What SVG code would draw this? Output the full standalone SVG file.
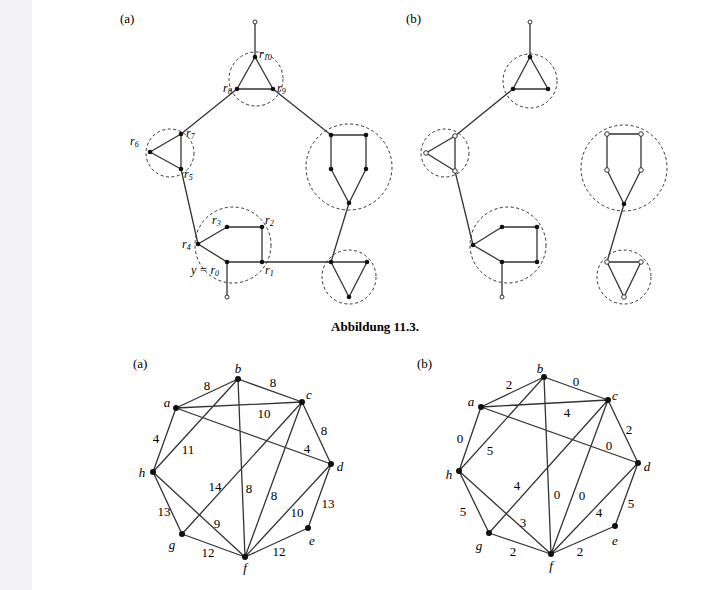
<svg xmlns="http://www.w3.org/2000/svg" width="720" height="590" viewBox="0 0 720 590">
<style>
text{font-family:"Liberation Serif","Times New Roman",serif;fill:#000}
.e{stroke:#333;stroke-width:1.3;fill:none;stroke-linejoin:round}
.c{stroke:#333;stroke-width:1;stroke-dasharray:3,2.5;fill:none}
.f{fill:#111}
.o{fill:#fff;stroke:#333;stroke-width:1}
.w{font-size:13px;text-anchor:middle}
.n{font-size:13px;font-style:italic;text-anchor:middle}
.r{font-size:12px;font-style:italic}
.s{font-size:8px}
</style>
<rect width="720" height="590" fill="#fff"/>
<rect width="32" height="590" fill="#f4f4f6"/>
<text x="120" y="23" font-size="13">(a)</text>
<text x="406" y="23" font-size="13">(b)</text>
<text x="375" y="331" font-size="13" font-weight="bold" text-anchor="middle">Abbildung 11.3.</text>
<text x="133" y="368" font-size="13">(a)</text>
<text x="417" y="368" font-size="13">(b)</text>

<g id="connectors">
<path class="e" d="M255,22V57L237,89H273L255,57M273,89L331,135M237,89L181,134M181,134L150,152L181,169ZM181,169L198,244L227,227H262V262H227L198,244M227,262V297M262,262H331M331,135H366V169L349,203L331,169ZM349,203L331,262H367L349,297L331,262"/>
<path class="e" d="M530,22V57L513,89H548L530,57M513,89L455,136M455,136L426,153L455,171ZM455,171L473,245L502,227H537V262H502L473,245M502,262V297M607,134H641V170L624,204L607,170ZM624,204L607,262H641L624,297L607,262"/>
<path class="e" d="M176,408L238,379L302,402L176,408L153,472L238,379L245,557L302,402L331,464L176,408M302,402L182,534L153,472L245,557L182,534M245,557L331,464L308,528L245,557"/>
<path class="e" d="M481,407L544,377L608,400L481,407L459,471L544,377L551,554L608,400L638,463L481,407M608,400L489,533L459,471L551,554L489,533M551,554L638,463L615,526L551,554"/>
</g>

<g id="circles">
<circle class="c" cx="256" cy="79" r="27"/><circle class="c" cx="170" cy="153" r="24"/><circle class="c" cx="233" cy="245" r="38"/><circle class="c" cx="349" cy="167" r="43"/><circle class="c" cx="349" cy="277" r="27"/>
<circle class="c" cx="530" cy="81" r="27"/><circle class="c" cx="445" cy="153" r="24"/><circle class="c" cx="508" cy="245" r="38"/><circle class="c" cx="624" cy="168" r="43"/><circle class="c" cx="624" cy="277" r="27"/>
</g>

<g id="nodes-top-a">
<circle class="o" cx="255" cy="22" r="2"/><circle class="o" cx="227" cy="297" r="2"/>
<g class="f"><circle cx="255" cy="57" r="2.3"/><circle cx="237" cy="89" r="2.3"/><circle cx="273" cy="89" r="2.3"/><circle cx="181" cy="134" r="2.3"/><circle cx="150" cy="152" r="2.3"/><circle cx="181" cy="169" r="2.3"/><circle cx="198" cy="244" r="2.3"/><circle cx="227" cy="227" r="2.3"/><circle cx="262" cy="227" r="2.3"/><circle cx="227" cy="262" r="2.3"/><circle cx="262" cy="262" r="2.3"/><circle cx="331" cy="135" r="2.3"/><circle cx="366" cy="135" r="2.3"/><circle cx="331" cy="169" r="2.3"/><circle cx="366" cy="169" r="2.3"/><circle cx="349" cy="203" r="2.3"/><circle cx="331" cy="262" r="2.3"/><circle cx="367" cy="262" r="2.3"/><circle cx="349" cy="297" r="2.3"/></g>
<text class="r" x="259" y="58">r<tspan class="s" dy="2">10</tspan></text>
<text class="r" x="223" y="92">r<tspan class="s" dy="2">8</tspan></text>
<text class="r" x="277" y="92">r<tspan class="s" dy="2">9</tspan></text>
<text class="r" x="186" y="137">r<tspan class="s" dy="2">7</tspan></text>
<text class="r" x="130" y="145">r<tspan class="s" dy="2">6</tspan></text>
<text class="r" x="184" y="178">r<tspan class="s" dy="2">5</tspan></text>
<text class="r" x="182" y="248">r<tspan class="s" dy="2">4</tspan></text>
<text class="r" x="212" y="224">r<tspan class="s" dy="2">3</tspan></text>
<text class="r" x="265" y="224">r<tspan class="s" dy="2">2</tspan></text>
<text class="r" x="265" y="274">r<tspan class="s" dy="2">1</tspan></text>
<text class="r" x="191" y="274">y = r<tspan class="s" dy="2">0</tspan></text>
</g>

<g id="nodes-top-b">
<g class="o"><circle cx="530" cy="22" r="2"/><circle cx="455" cy="136" r="2.3"/><circle cx="426" cy="153" r="2.3"/><circle cx="455" cy="171" r="2.3"/><circle cx="502" cy="297" r="2"/><circle cx="607" cy="134" r="2.3"/><circle cx="641" cy="134" r="2.3"/><circle cx="607" cy="170" r="2.3"/><circle cx="641" cy="170" r="2.3"/><circle cx="607" cy="262" r="2.3"/><circle cx="641" cy="262" r="2.3"/><circle cx="624" cy="297" r="2.3"/></g>
<g class="f"><circle cx="530" cy="57" r="2.3"/><circle cx="513" cy="89" r="2.3"/><circle cx="548" cy="89" r="2.3"/><circle cx="473" cy="245" r="2.3"/><circle cx="502" cy="227" r="2.3"/><circle cx="537" cy="227" r="2.3"/><circle cx="502" cy="262" r="2.3"/><circle cx="537" cy="262" r="2.3"/><circle cx="624" cy="204" r="2.3"/></g>
</g>

<g id="graph-a">
<g class="f"><circle cx="238" cy="379" r="3"/><circle cx="302" cy="402" r="3"/><circle cx="176" cy="408" r="3"/><circle cx="331" cy="464" r="3"/><circle cx="153" cy="472" r="3"/><circle cx="182" cy="534" r="3"/><circle cx="308" cy="528" r="3"/><circle cx="245" cy="557" r="3"/></g>
<text class="n" x="238" y="373">b</text><text class="n" x="309" y="399">c</text><text class="n" x="167" y="407">a</text><text class="n" x="340" y="471">d</text><text class="n" x="142" y="477">h</text><text class="n" x="172" y="549">g</text><text class="n" x="312" y="545">e</text><text class="n" x="245" y="572">f</text>
<text class="w" x="207" y="390">8</text><text class="w" x="273" y="387">8</text><text class="w" x="264" y="418">10</text><text class="w" x="156" y="443">4</text><text class="w" x="188" y="454">11</text><text class="w" x="324" y="435">8</text><text class="w" x="307" y="453">4</text><text class="w" x="215" y="491">14</text><text class="w" x="249" y="493">8</text><text class="w" x="274" y="500">8</text><text class="w" x="297" y="517">10</text><text class="w" x="328" y="508">13</text><text class="w" x="164" y="516">13</text><text class="w" x="217" y="528">9</text><text class="w" x="208" y="557">12</text><text class="w" x="279" y="556">12</text>
</g>

<g id="graph-b">
<g class="f"><circle cx="544" cy="377" r="3"/><circle cx="608" cy="400" r="3"/><circle cx="481" cy="407" r="3"/><circle cx="638" cy="463" r="3"/><circle cx="459" cy="471" r="3"/><circle cx="489" cy="533" r="3"/><circle cx="615" cy="526" r="3"/><circle cx="551" cy="554" r="3"/></g>
<text class="n" x="540" y="373">b</text><text class="n" x="615" y="400">c</text><text class="n" x="471" y="406">a</text><text class="n" x="647" y="471">d</text><text class="n" x="449" y="479">h</text><text class="n" x="479" y="550">g</text><text class="n" x="615" y="545">e</text><text class="n" x="551" y="570">f</text>
<text class="w" x="509" y="389">2</text><text class="w" x="576" y="386">0</text><text class="w" x="567" y="417">4</text><text class="w" x="460" y="443">0</text><text class="w" x="490" y="455">5</text><text class="w" x="629" y="434">2</text><text class="w" x="609" y="450">0</text><text class="w" x="517" y="490">4</text><text class="w" x="557" y="499">0</text><text class="w" x="582" y="500">0</text><text class="w" x="599" y="517">4</text><text class="w" x="631" y="508">5</text><text class="w" x="463" y="516">5</text><text class="w" x="523" y="527">3</text><text class="w" x="513" y="556">2</text><text class="w" x="580" y="556">2</text>
</g>
</svg>
